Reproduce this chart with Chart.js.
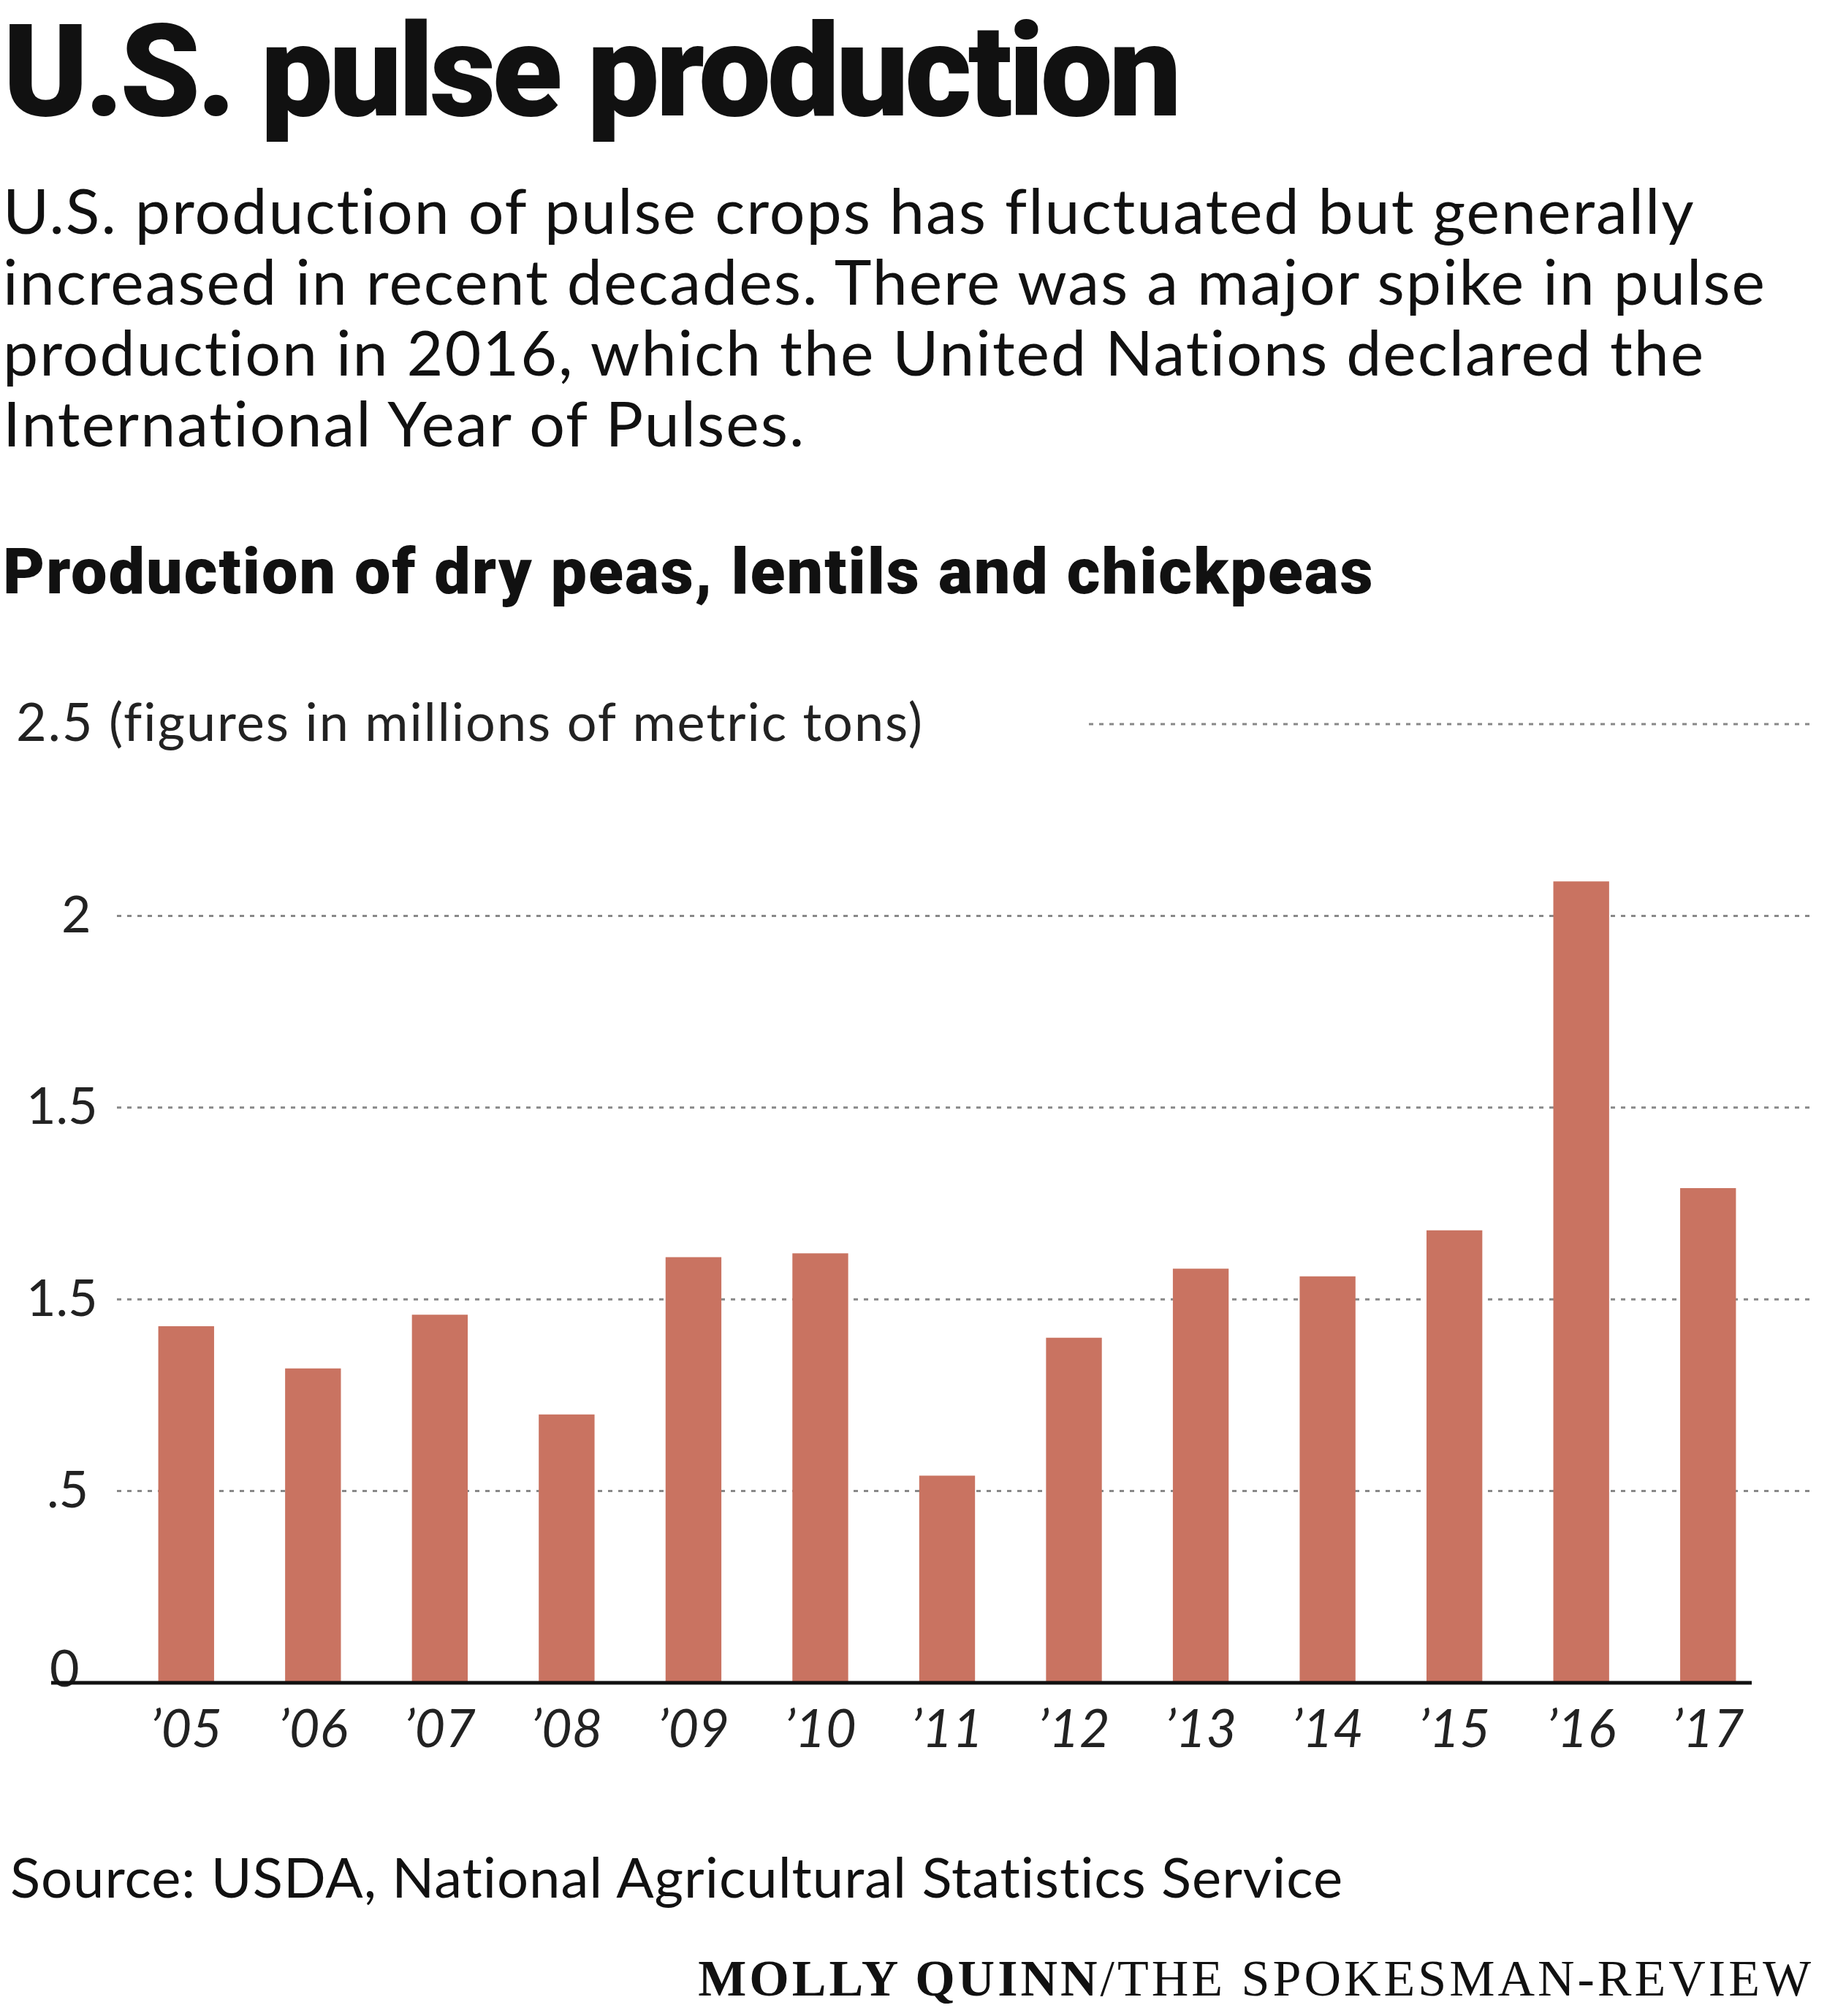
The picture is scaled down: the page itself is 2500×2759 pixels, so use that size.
<!DOCTYPE html>
<html><head><meta charset="utf-8">
<script src="https://cdn.jsdelivr.net/npm/chart.js@4.4.0/dist/chart.umd.min.js"></script>
<style>
body{margin:0;width:2500px;height:2759px;background:#fff;position:relative;overflow:hidden;font-family:Lato,"Open Sans",sans-serif;color:#111}
#c{position:absolute;left:0;top:0}
.t{position:absolute;left:4px;white-space:nowrap}
#title{top:10px;font-family:Roboto,sans-serif;font-weight:900;font-size:176px;letter-spacing:-5px;line-height:1}
#sub{top:238px;font-size:86px;line-height:97px;font-weight:400;letter-spacing:2px}
#head{top:730px;font-family:Roboto,sans-serif;font-weight:900;font-size:88px;letter-spacing:2px}
#src{top:2522px;left:14px;font-size:76px;letter-spacing:1px}
#cred{top:2668px;left:auto;right:18px;font-family:"Liberation Serif",serif;font-weight:bold;font-size:70px;letter-spacing:4px}
</style></head><body>
<canvas id="c" width="2500" height="2759"></canvas>
<div class="t" id="title">U.S. pulse production</div>
<div class="t" id="sub">U.S. production of pulse crops has fluctuated but generally<br>increased in recent decades. There was a major spike in pulse<br>production in 2016, which the United Nations declared the<br>International Year of Pulses.</div>
<div class="t" id="head">Production of dry peas, lentils and chickpeas</div>
<div class="t" id="src">Source: USDA, National Agricultural Statistics Service</div>
<div class="t" id="cred">MOLLY QUINN<span style="font-weight:normal">/THE SPOKESMAN-REVIEW</span></div>
<script>
const years = ["’05","’06","’07","’08","’09","’10","’11","’12","’13","’14","’15","’16","’17"];
const production = [0.93,0.82,0.96,0.70,1.11,1.12,0.54,0.90,1.08,1.06,1.18,2.09,1.29];
const tickValues = [0,0.5,1,1.5,2,2.5];
const tickLabels = ["0",".5","1.5","1.5","2","2.5 (figures in millions of metric tons)"];
const tickX = [68,64,36,36,84,22];

const gridPlugin = {
  id:'grid',
  beforeDatasetsDraw(chart){
    const ctx=chart.ctx, y=chart.scales.y;
    ctx.save();
    ctx.font='400 70px Lato, "Open Sans", sans-serif';
    ctx.fillStyle='#222';
    ctx.textBaseline='middle';
    tickValues.forEach((v,i)=>{
      const py=y.getPixelForValue(v);
      const lab=tickLabels[i];
      if(i===5){ctx.save();ctx.font='400 72px Lato, "Open Sans", sans-serif';ctx.letterSpacing='2px';}
      ctx.fillText(lab, tickX[i], i===0?py-18:py);
      if(i===5) ctx.restore();
      if(i>0){
        const x0=i===5?1490:160;
        ctx.strokeStyle='#888';ctx.lineWidth=3;ctx.setLineDash([6,8]);
        ctx.beginPath();ctx.moveTo(x0,py);ctx.lineTo(2482,py);ctx.stroke();
      }
    });
    ctx.restore();
  },
  afterDatasetsDraw(chart){
    const ctx=chart.ctx, py=chart.scales.y.getPixelForValue(0);
    ctx.save();ctx.strokeStyle='#111';ctx.lineWidth=5;
    ctx.beginPath();ctx.moveTo(70,py);ctx.lineTo(2397,py);ctx.stroke();ctx.restore();
  }
};

new Chart(document.getElementById('c'),{
  type:'bar',
  data:{labels:years,datasets:[{data:production,backgroundColor:'#c97361',categoryPercentage:1,barPercentage:0.44}]},
  options:{
    responsive:false,animation:false,
    layout:{padding:{left:168,right:76,top:991,bottom:326}},
    plugins:{legend:{display:false},tooltip:{enabled:false}},
    scales:{
      y:{display:false,min:0,max:2.5},
      x:{grid:{display:false},border:{display:false},
         ticks:{color:'#222',padding:14,font:{family:'Lato',style:'italic',size:72}},
         afterFit(s){s.height=130;}}
    }
  },
  plugins:[gridPlugin]
});
</script>
</body></html>
